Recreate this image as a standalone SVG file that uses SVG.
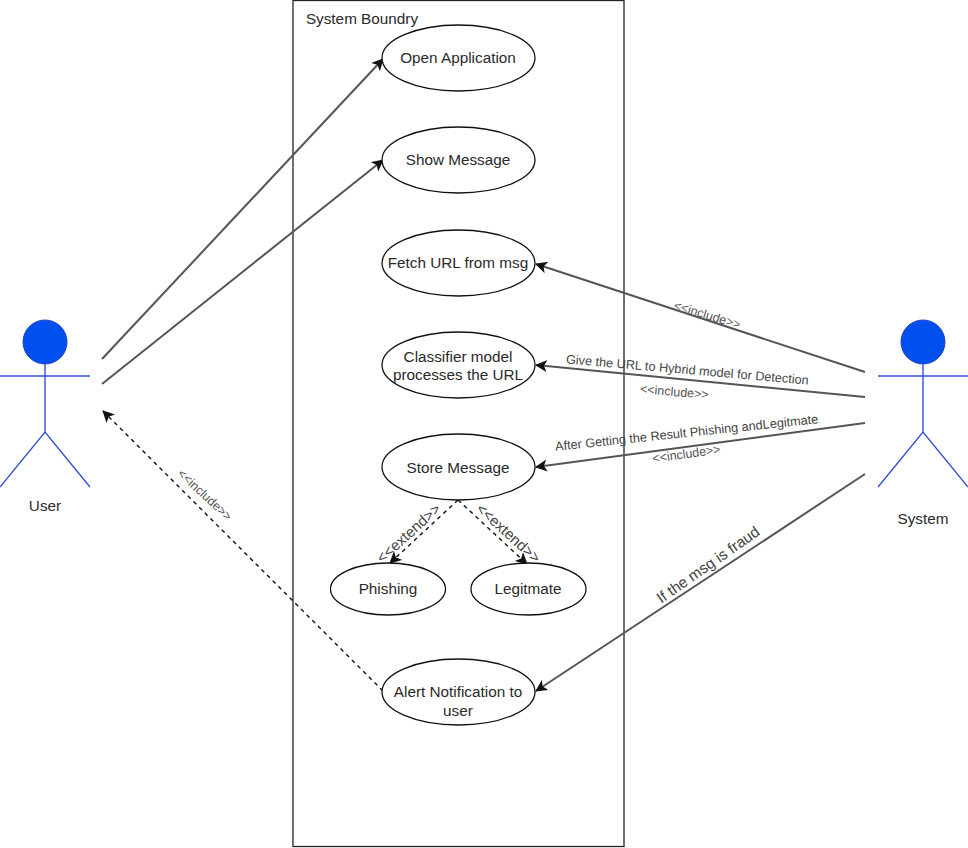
<svg xmlns="http://www.w3.org/2000/svg" width="968" height="848" viewBox="0 0 968 848">
<style>
text{font-family:"Liberation Sans",Arial,sans-serif;fill:#2a2a2a;text-anchor:middle}
.n{font-size:15.300px}
.s{font-size:12.500px;fill:#555}
.m{font-size:12.700px;fill:#444}
.x{font-size:15px;fill:#444}
.e{fill:#fff;stroke:#111;stroke-width:1.300}
.a{stroke:#3050d8;stroke-width:1.400;fill:none}
.h{fill:#0050ef;stroke:#2040c0;stroke-width:1}
.c{stroke:#555;stroke-width:2;fill:none;marker-end:url(#ah)}
.d{stroke:#111;stroke-width:1.400;stroke-dasharray:4 4;fill:none;marker-end:url(#ah)}
</style>
<defs><marker id="ah" markerUnits="userSpaceOnUse" markerWidth="14" markerHeight="14" refX="11" refY="6" orient="auto"><path d="M0 0L12 6L0 12L3 6Z" fill="#111"/></marker></defs>
<rect width="968" height="848" fill="#fff"/>
<g id="boundary"><rect x="293" y="0.500" width="331" height="846" fill="#fff" stroke="#222" stroke-width="1.300"/><text class="n" x="362" y="24">System Boundry</text></g>
<g id="connectors">
<path class="c" d="M102 359L383 59"/>
<path class="c" d="M102 384L383 160"/>
<path class="c" d="M865 372L536 264"/>
<path class="c" d="M865 397L536 365"/>
<path class="c" d="M865 423L536 467"/>
<path class="c" d="M865 474L536 691"/>
<path class="d" d="M383 691L103 411"/>
<path class="d" d="M458 500L390 563"/>
<path class="d" d="M458 500L527 564"/>
<text class="s" transform="translate(706 319) rotate(17)">&lt;&lt;include&gt;&gt;</text>
<text class="m" transform="translate(687 374) rotate(5)">Give the URL to Hybrid model for Detection</text>
<text class="s" transform="translate(674 396) rotate(5)">&lt;&lt;include&gt;&gt;</text>
<text class="m" transform="translate(687 437) rotate(-6)">After Getting the Result Phishing andLegitmate</text>
<text class="s" transform="translate(687 458) rotate(-8)">&lt;&lt;include&gt;&gt;</text>
<text class="n" style="fill:#444" transform="translate(711 569) rotate(-35)">If the msg is fraud</text>
<text class="s" transform="translate(202 498) rotate(43)">&lt;&lt;include&gt;&gt;</text>
<text class="x" transform="translate(412 537) rotate(-42)">&lt;&lt;extend&gt;&gt;</text>
<text class="x" transform="translate(505 537) rotate(42)">&lt;&lt;extend&gt;&gt;</text>
</g>
<g id="user"><circle class="h" cx="45" cy="342" r="22"/><path class="a" d="M45 364V432M0 376H90M0 487L45 432L90 487"/><text class="n" x="45" y="511">User</text></g>
<g id="system"><circle class="h" cx="923" cy="342" r="22"/><path class="a" d="M923 364V432M878 376H968M878 487L923 432L968 487"/><text class="n" x="923" y="524">System</text></g>
<g id="open-application"><ellipse class="e" cx="458.500" cy="58" rx="76.500" ry="33"/><text class="n" x="458" y="63">Open Application</text></g>
<g id="show-message"><ellipse class="e" cx="458.500" cy="160" rx="76.500" ry="33"/><text class="n" x="458" y="165">Show Message</text></g>
<g id="fetch-url"><ellipse class="e" cx="458.500" cy="263" rx="76.500" ry="33"/><text class="n" x="458" y="268">Fetch URL from msg</text></g>
<g id="classifier"><ellipse class="e" cx="458.500" cy="365" rx="76.500" ry="33"/><text class="n" x="458" y="362">Classifier model</text><text class="n" x="458" y="380">processes the URL</text></g>
<g id="store-message"><ellipse class="e" cx="458.500" cy="467" rx="76.500" ry="33"/><text class="n" x="458" y="473">Store Message</text></g>
<g id="phishing"><ellipse class="e" cx="388" cy="589" rx="57.500" ry="26"/><text class="n" x="388" y="594">Phishing</text></g>
<g id="legitmate"><ellipse class="e" cx="528.500" cy="589" rx="57.500" ry="26"/><text class="n" x="528" y="594">Legitmate</text></g>
<g id="alert"><ellipse class="e" cx="458.500" cy="692" rx="76.500" ry="33"/><text class="n" x="458" y="697">Alert Notification to</text><text class="n" x="458" y="716">user</text></g>
</svg>
